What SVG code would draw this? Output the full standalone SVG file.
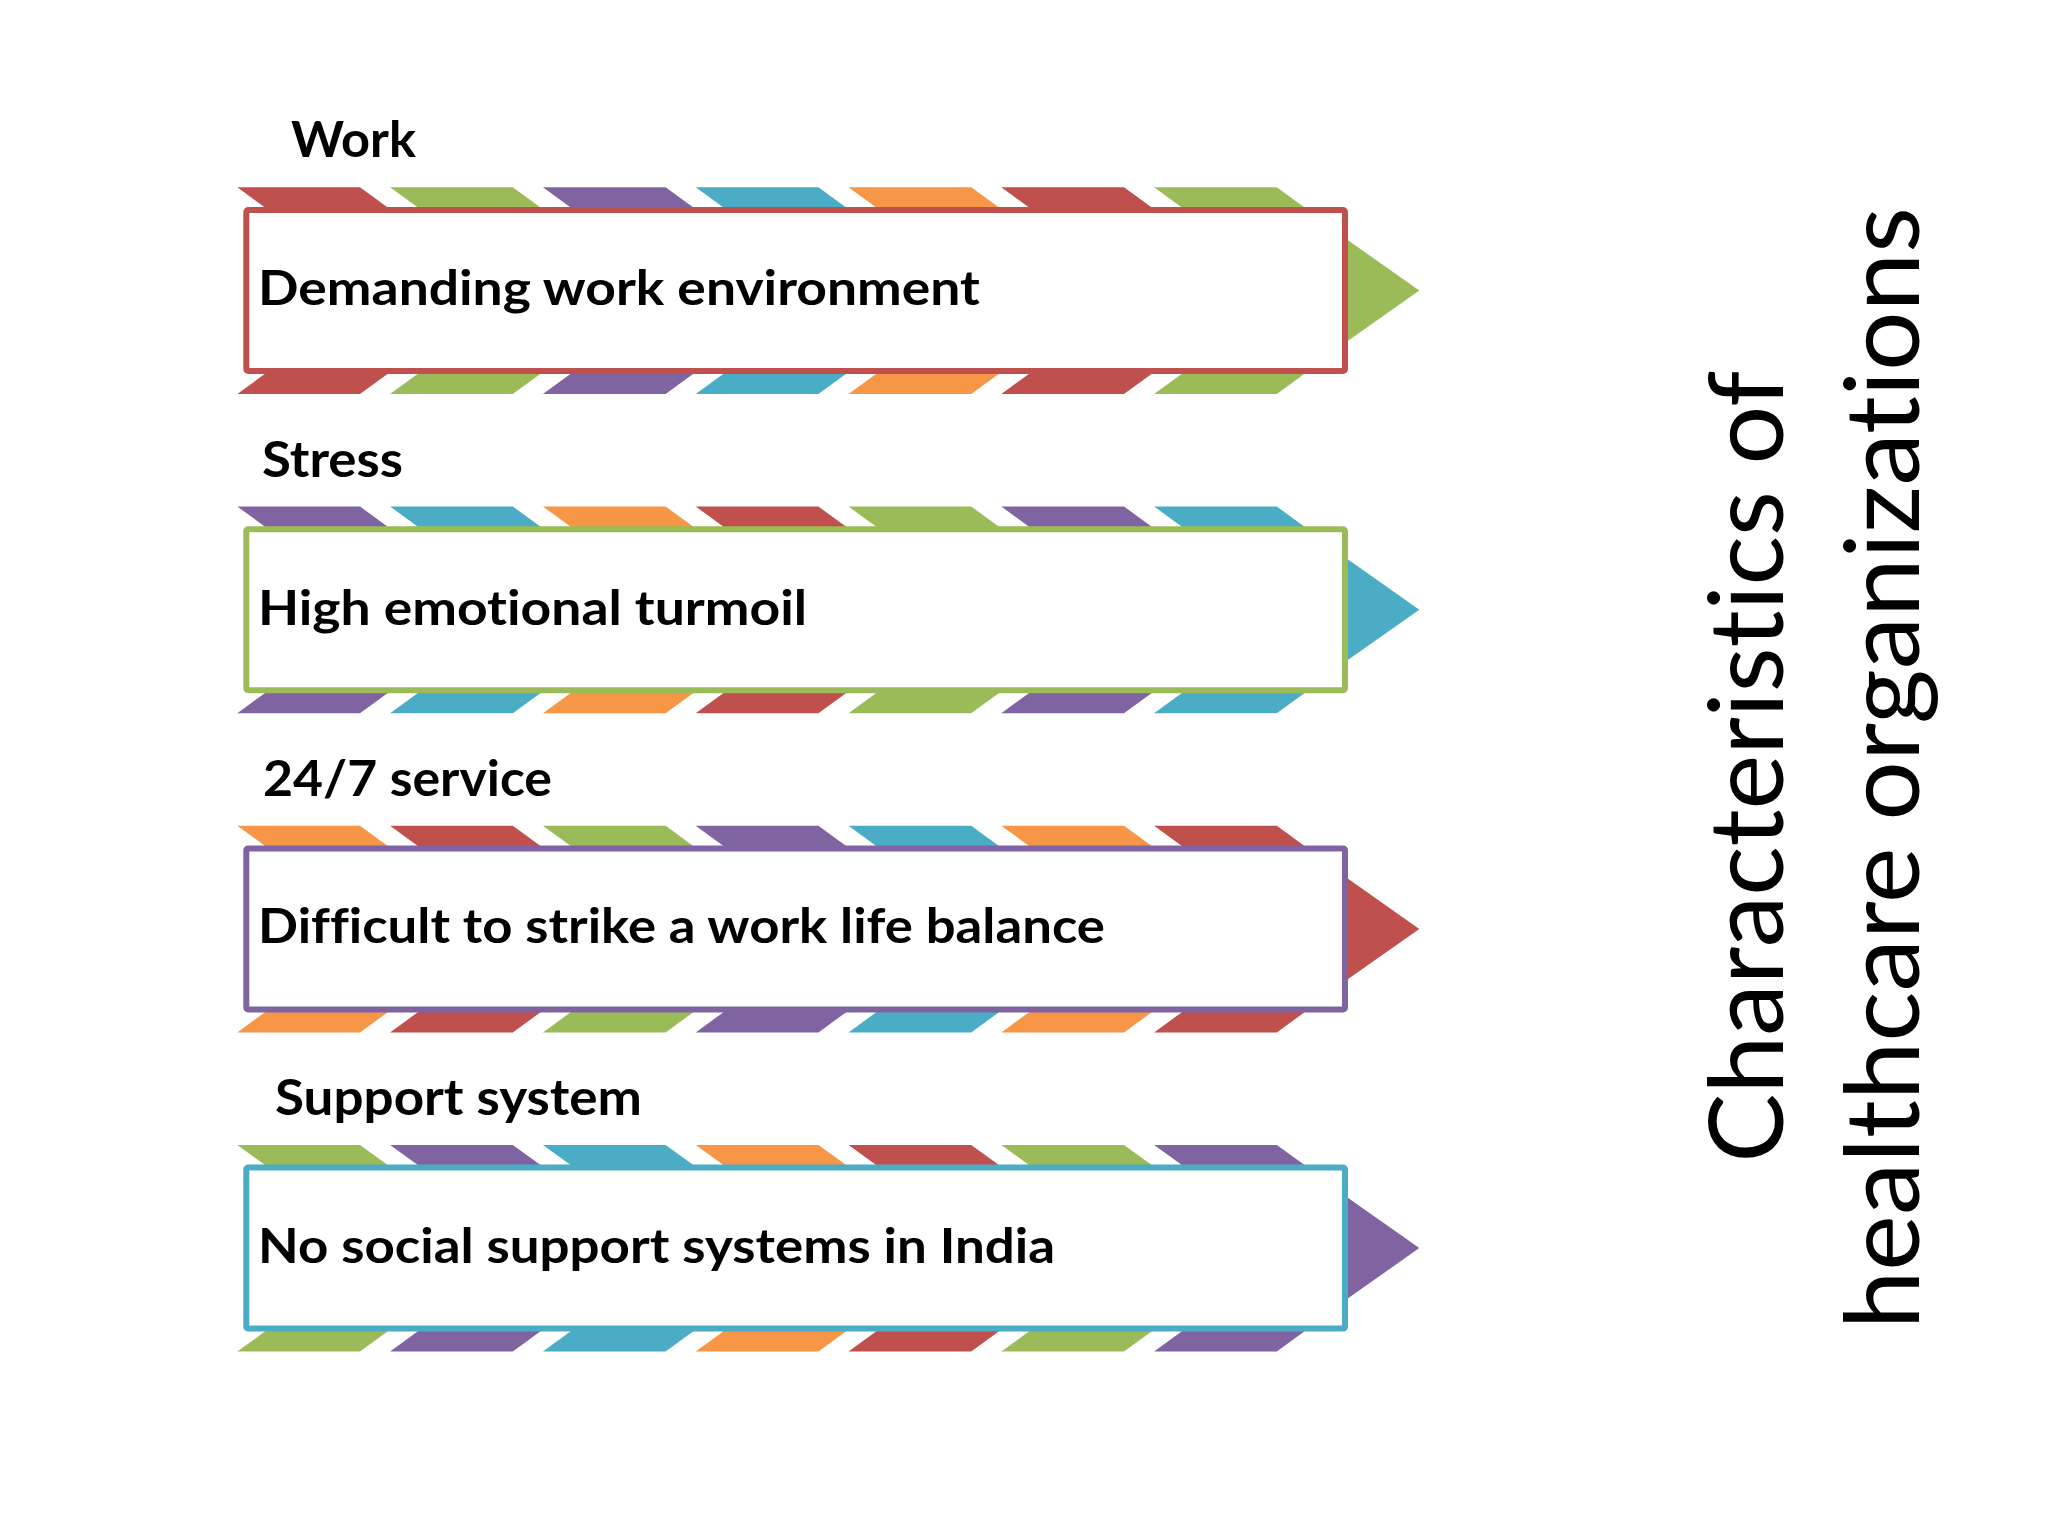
<svg xmlns="http://www.w3.org/2000/svg" width="2048" height="1536" viewBox="0 0 2048 1536">
<style>
.r{fill:#C0504D}.g{fill:#9BBB59}.p{fill:#8064A2}.b{fill:#4BACC6}.o{fill:#F79646}
.box{fill:#FFFFFF;stroke-width:6;stroke-linejoin:round}
.br{stroke:#C0504D}.bg{stroke:#9BBB59}.bp{stroke:#8064A2}.bb{stroke:#4BACC6}
text{font-variant-ligatures:none;font-feature-settings:"liga" 0,"dlig" 0}
.main{font-family:Lato,"Open Sans","Liberation Sans",sans-serif;font-weight:700;font-size:48px;fill:#000}
.lbl{font-family:Lato,"Open Sans","Liberation Sans",sans-serif;font-weight:700;font-size:50px;fill:#000}
.title{font-family:Lato,"Open Sans","Liberation Sans",sans-serif;font-weight:400;font-size:102px;fill:#000}
</style>
<defs>
<polygon id="st" points="0,187.3 122.7,187.3 153.9,210 31.2,210"/>
<polygon id="sb" points="31.6,371 154.3,371 122.7,394 0,394"/>
</defs>
<rect x="0" y="0" width="2048" height="1536" fill="#FFFFFF"/>

<g id="node-work">
<use href="#st" x="237.3" class="r"/><use href="#st" x="390.1" class="g"/><use href="#st" x="542.9" class="p"/><use href="#st" x="695.7" class="b"/><use href="#st" x="848.5" class="o"/><use href="#st" x="1001.3" class="r"/><use href="#st" x="1154.1" class="g"/>
<use href="#sb" x="237.3" class="r"/><use href="#sb" x="390.1" class="g"/><use href="#sb" x="542.9" class="p"/><use href="#sb" x="695.7" class="b"/><use href="#sb" x="848.5" class="o"/><use href="#sb" x="1001.3" class="r"/><use href="#sb" x="1154.1" class="g"/>
<polygon class="g" points="1330,227.6 1419.3,290.5 1330,353.4"/>
<rect class="box br" x="246.3" y="210" width="1098.7" height="161" rx="2"/>
<text class="lbl" x="291" y="157" textLength="125" lengthAdjust="spacingAndGlyphs">Work</text>
<text class="main" x="258" y="305" textLength="722" lengthAdjust="spacingAndGlyphs">Demanding work environment</text>
</g>

<g id="node-stress" transform="translate(0,319.2)">
<use href="#st" x="237.3" class="p"/><use href="#st" x="390.1" class="b"/><use href="#st" x="542.9" class="o"/><use href="#st" x="695.7" class="r"/><use href="#st" x="848.5" class="g"/><use href="#st" x="1001.3" class="p"/><use href="#st" x="1154.1" class="b"/>
<use href="#sb" x="237.3" class="p"/><use href="#sb" x="390.1" class="b"/><use href="#sb" x="542.9" class="o"/><use href="#sb" x="695.7" class="r"/><use href="#sb" x="848.5" class="g"/><use href="#sb" x="1001.3" class="p"/><use href="#sb" x="1154.1" class="b"/>
<polygon class="b" points="1330,227.6 1419.3,290.5 1330,353.4"/>
<rect class="box bg" x="246.3" y="210" width="1098.7" height="161" rx="2"/>
<text class="lbl" x="262" y="157.5" textLength="141" lengthAdjust="spacingAndGlyphs">Stress</text>
<text class="main" x="258" y="305.5" textLength="549" lengthAdjust="spacingAndGlyphs">High emotional turmoil</text>
</g>

<g id="node-service" transform="translate(0,638.4)">
<use href="#st" x="237.3" class="o"/><use href="#st" x="390.1" class="r"/><use href="#st" x="542.9" class="g"/><use href="#st" x="695.7" class="p"/><use href="#st" x="848.5" class="b"/><use href="#st" x="1001.3" class="o"/><use href="#st" x="1154.1" class="r"/>
<use href="#sb" x="237.3" class="o"/><use href="#sb" x="390.1" class="r"/><use href="#sb" x="542.9" class="g"/><use href="#sb" x="695.7" class="p"/><use href="#sb" x="848.5" class="b"/><use href="#sb" x="1001.3" class="o"/><use href="#sb" x="1154.1" class="r"/>
<polygon class="r" points="1330,227.6 1419.3,290.5 1330,353.4"/>
<rect class="box bp" x="246.3" y="210" width="1098.7" height="161" rx="2"/>
<text class="lbl" x="263" y="157.3" textLength="289" lengthAdjust="spacingAndGlyphs">24/7 service</text>
<text class="main" x="258" y="305" textLength="847" lengthAdjust="spacingAndGlyphs">Difficult to strike a work life balance</text>
</g>

<g id="node-support" transform="translate(0,957.6)">
<use href="#st" x="237.3" class="g"/><use href="#st" x="390.1" class="p"/><use href="#st" x="542.9" class="b"/><use href="#st" x="695.7" class="o"/><use href="#st" x="848.5" class="r"/><use href="#st" x="1001.3" class="g"/><use href="#st" x="1154.1" class="p"/>
<use href="#sb" x="237.3" class="g"/><use href="#sb" x="390.1" class="p"/><use href="#sb" x="542.9" class="b"/><use href="#sb" x="695.7" class="o"/><use href="#sb" x="848.5" class="r"/><use href="#sb" x="1001.3" class="g"/><use href="#sb" x="1154.1" class="p"/>
<polygon class="p" points="1330,227.6 1419.3,290.5 1330,353.4"/>
<rect class="box bb" x="246.3" y="210" width="1098.7" height="161" rx="2"/>
<text class="lbl" x="275" y="157.4" textLength="367" lengthAdjust="spacingAndGlyphs">Support system</text>
<text class="main" x="258" y="305" textLength="797" lengthAdjust="spacingAndGlyphs">No social support systems in India</text>
</g>

<g id="connectors"></g>

<g id="title">
<text class="title" transform="translate(1783,766.7) rotate(-90)" text-anchor="middle" textLength="792" lengthAdjust="spacingAndGlyphs">Characteristics of</text>
<text class="title" transform="translate(1919,768.3) rotate(-90)" text-anchor="middle" textLength="1122" lengthAdjust="spacingAndGlyphs">healthcare organizations</text>
</g>
</svg>
